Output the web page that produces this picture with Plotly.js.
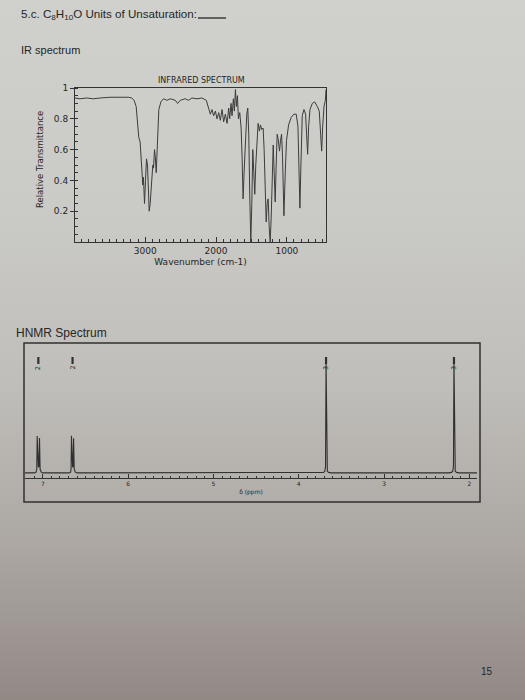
<!DOCTYPE html>
<html>
<head>
<meta charset="utf-8">
<script src="https://cdn.plot.ly/plotly-3.0.1.min.js"></script>
<style>
  html, body { margin: 0; padding: 0; }
  body {
    width: 525px; height: 700px; overflow: hidden;
    background: linear-gradient(to bottom, #d0d0cc 0%, #cacac6 30%, #c0beba 55%, #aca7a3 78%, #928985 100%);
  }
  #chart { width: 525px; height: 700px; }
</style>
</head>
<body>
<div id="chart"></div>
<script>
// ---------------- DATA ----------------
// IR spectrum (wavenumber in cm-1, relative transmittance)
const irWavenumber = [3991, 3920, 3825, 3731, 3637, 3495, 3354, 3236, 3189, 3156, 3127, 3108, 3090, 3071, 3057, 3042, 3033, 3024, 3009, 2995,
  2981, 2967, 2958, 2943, 2929, 2910, 2892, 2882, 2868, 2858, 2844, 2835, 2821, 2807, 2778, 2741, 2693, 2646, 2575, 2542,
  2505, 2434, 2387, 2340, 2269, 2198, 2137, 2104, 2080, 2057, 2033, 2009, 1986, 1962, 1939, 1915, 1892, 1868, 1844, 1821,
  1807, 1788, 1774, 1755, 1741, 1726, 1712, 1698, 1684, 1665, 1646, 1632, 1618, 1604, 1585, 1566, 1552, 1538, 1524, 1509,
  1495, 1481, 1467, 1453, 1439, 1420, 1406, 1387, 1373, 1354, 1335, 1321, 1307, 1292, 1278, 1264, 1250, 1236, 1222, 1208,
  1193, 1179, 1165, 1151, 1137, 1123, 1104, 1090, 1075, 1061, 1042, 1023, 1005, 976, 939, 901, 868, 844, 825, 816,
  802, 783, 759, 736, 722, 707, 693, 674, 641, 608, 571, 543, 524, 509, 495, 476, 457, 448];
const irTransmittance = [0.935, 0.93, 0.935, 0.93, 0.935, 0.94, 0.94, 0.94, 0.935, 0.92, 0.88, 0.80, 0.68, 0.65, 0.55, 0.40, 0.37, 0.42, 0.25, 0.40,
  0.54, 0.50, 0.38, 0.20, 0.25, 0.40, 0.50, 0.48, 0.60, 0.56, 0.45, 0.55, 0.75, 0.86, 0.91, 0.93, 0.92, 0.93, 0.92, 0.90,
  0.92, 0.93, 0.92, 0.935, 0.93, 0.935, 0.92, 0.86, 0.83, 0.86, 0.82, 0.85, 0.80, 0.84, 0.79, 0.86, 0.78, 0.83, 0.77, 0.87,
  0.80, 0.90, 0.82, 0.93, 0.85, 0.99, 0.88, 0.95, 0.80, 0.84, 0.74, 0.55, 0.28, 0.45, 0.70, 0.83, 0.87, 0.70, 0.30, 0.0,
  0.25, 0.60, 0.45, 0.31, 0.50, 0.70, 0.77, 0.72, 0.76, 0.73, 0.74, 0.60, 0.30, 0.13, 0.25, 0.28, 0.10, 0.0, 0.15, 0.45,
  0.63, 0.45, 0.26, 0.50, 0.70, 0.67, 0.59, 0.66, 0.70, 0.55, 0.17, 0.45, 0.66, 0.76, 0.81, 0.83, 0.83, 0.75, 0.40, 0.22,
  0.50, 0.82, 0.86, 0.83, 0.70, 0.57, 0.75, 0.86, 0.90, 0.91, 0.88, 0.85, 0.70, 0.59, 0.75, 0.88, 0.92, 0.99];
const irYTicks = [0.2, 0.4, 0.6, 0.8, 1];
const irYTickText = ['0.2', '0.4', '0.6', '0.8', '1'];

// HNMR spectrum (chemical shift in ppm, relative intensity)
const nmrPpm = [7.21, 7.10, 7.08, 7.072, 7.067, 7.06, 7.0535, 7.047, 7.04, 7.033, 7.02, 7.00,
  6.72, 6.69, 6.675, 6.67, 6.665, 6.658, 6.6525, 6.647, 6.64, 6.633, 6.62, 6.60,
  3.74, 3.71, 3.695, 3.686, 3.68, 3.674, 3.665, 3.65, 3.62,
  2.24, 2.21, 2.195, 2.186, 2.18, 2.174, 2.165, 2.15, 2.12, 1.91];
const nmrIntensity = [0, 0, 0.006, 0.03, 0.288, 0.05, 0.045, 0.05, 0.273, 0.03, 0.006, 0,
  0, 0, 0.006, 0.03, 0.29, 0.05, 0.045, 0.05, 0.27, 0.03, 0.006, 0,
  0, 0.004, 0.012, 0.05, 0.883, 0.05, 0.012, 0.004, 0,
  0, 0.004, 0.012, 0.05, 0.883, 0.05, 0.012, 0.004, 0, 0];
const nmrGroupPpm = [7.0535, 6.6525, 3.68, 2.18];
const nmrGroupIntegral = ['2', '2', '3', '3'];

// ---------------- LAYOUT HELPERS ----------------
const W = 525, H = 700;
const px = x => x / W;
const py = y => 1 - y / H;
const INK = '#262626';
const sans = 'Liberation Sans, Arial, sans-serif';
const mpl = 'DejaVu Sans, sans-serif';

const traces = [
  { x: irWavenumber, y: irTransmittance, xaxis: 'x', yaxis: 'y', type: 'scatter', mode: 'lines',
    line: { color: '#3c3c3c', width: 1 }, hoverinfo: 'skip' },
  { x: nmrPpm, y: nmrIntensity, xaxis: 'x2', yaxis: 'y2', type: 'scatter', mode: 'lines',
    line: { color: '#303030', width: 1.1 }, hoverinfo: 'skip' }
];

const shapes = [
  { type: 'rect', xref: 'paper', yref: 'paper', x0: px(24), x1: px(480), y0: py(343), y1: py(502),
    line: { color: '#303030', width: 1.5 } },
  // answer blank after the title
  { type: 'line', xref: 'paper', yref: 'paper', x0: px(198), x1: px(226), y0: py(18), y1: py(18),
    line: { color: '#262626', width: 1.3 } }
];
const annotations = [
  { text: '5.c. C<sub>8</sub>H<sub>10</sub>O Units of Unsaturation:', x: px(19), y: py(14),
    xref: 'paper', yref: 'paper', xanchor: 'left', yanchor: 'middle', showarrow: false,
    font: { family: sans, size: 11.6, color: INK } },
  { text: 'IR spectrum', x: px(19), y: py(50), xref: 'paper', yref: 'paper', xanchor: 'left', yanchor: 'middle',
    showarrow: false, font: { family: sans, size: 11, color: INK } },
  { text: 'HNMR Spectrum', x: px(14), y: py(333), xref: 'paper', yref: 'paper', xanchor: 'left', yanchor: 'middle',
    showarrow: false, font: { family: sans, size: 12, color: INK } },
  { text: '15', x: px(487), y: py(671), xref: 'paper', yref: 'paper', xanchor: 'center', yanchor: 'middle',
    showarrow: false, font: { family: sans, size: 10, color: INK } },
  { text: 'INFRARED SPECTRUM', x: px(201), y: py(80), xref: 'paper', yref: 'paper', xanchor: 'center', yanchor: 'middle',
    showarrow: false, font: { family: mpl, size: 8, color: INK } },
  { text: 'Relative Transmittance', x: px(40), y: py(160), xref: 'paper', yref: 'paper', xanchor: 'center', yanchor: 'middle',
    textangle: -90, showarrow: false, font: { family: mpl, size: 8.5, color: INK } }
];
nmrGroupPpm.forEach((p, i) => {
  shapes.push({ type: 'line', xref: 'x2', yref: 'paper', x0: p, x1: p, y0: py(357), y1: py(364),
    line: { color: '#303030', width: 2.2 } });
  annotations.push({ text: nmrGroupIntegral[i], x: p, y: py(368), xref: 'x2', yref: 'paper',
    xanchor: 'center', yanchor: 'middle', textangle: -90, showarrow: false,
    font: { family: mpl, size: 6.5, color: INK } });
});

const layout = {
  width: W, height: H,
  margin: { l: 0, r: 0, t: 0, b: 0, pad: 0 },
  paper_bgcolor: 'rgba(0,0,0,0)', plot_bgcolor: 'rgba(0,0,0,0)',
  showlegend: false,
  xaxis: {
    domain: [px(75), px(326)], range: [3990, 448], anchor: 'y',
    showline: true, mirror: true, linecolor: '#333', linewidth: 1,
    showgrid: false, zeroline: false,
    tickmode: 'linear', tick0: 0, dtick: 1000, ticks: 'inside', ticklen: 5, tickcolor: '#333',
    minor: { ticks: 'inside', ticklen: 3, dtick: 100, tick0: 0, tickcolor: '#333', showgrid: false },
    tickfont: { family: mpl, size: 9, color: INK },
    title: { text: 'Wavenumber (cm-1)', font: { family: mpl, size: 9, color: INK }, standoff: 3 },
    fixedrange: true
  },
  yaxis: {
    domain: [py(242), py(88)], range: [0, 1], anchor: 'x',
    showline: true, mirror: true, linecolor: '#333', linewidth: 1,
    showgrid: false, zeroline: false,
    tickmode: 'array', tickvals: irYTicks, ticktext: irYTickText, ticks: 'outside', ticklen: 4, tickcolor: '#333',
    minor: { tickmode: 'linear', tick0: 0, dtick: 0.05, ticks: 'inside', ticklen: 3, tickcolor: '#333', showgrid: false },
    tickfont: { family: mpl, size: 9, color: INK },
    fixedrange: true
  },
  xaxis2: {
    domain: [px(25), px(477)], range: [7.21, 1.91], anchor: 'y2',
    showline: true, linecolor: '#333', linewidth: 1,
    showgrid: false, zeroline: false,
    tickmode: 'linear', tick0: 0, dtick: 1, ticks: 'inside', ticklen: 4, tickcolor: '#333',
    minor: { ticks: 'inside', ticklen: 2, dtick: 0.1, tick0: 0, tickcolor: '#333', showgrid: false },
    tickfont: { family: mpl, size: 6, color: INK },
    title: { text: 'δ (ppm)', font: { family: mpl, size: 6, color: INK }, standoff: 3 },
    fixedrange: true
  },
  yaxis2: {
    domain: [py(478), py(345)], range: [-0.04, 1], anchor: 'x2',
    visible: false, fixedrange: true
  },
  shapes: shapes,
  annotations: annotations
};

Plotly.newPlot('chart', traces, layout, { displayModeBar: false, staticPlot: true });
</script>
</body>
</html>
